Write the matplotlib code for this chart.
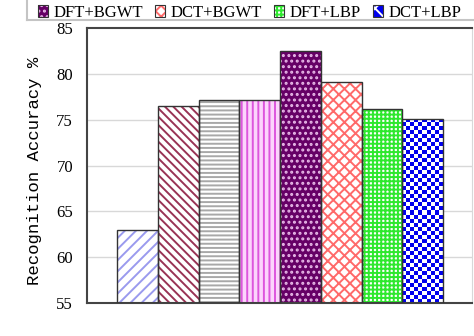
import matplotlib

matplotlib.use("Agg")
import matplotlib.pyplot as plt
import numpy as np
from matplotlib.lines import Line2D
from matplotlib.patches import Patch

# accuracy (%) per feature combination
methods = ["m1", "m2", "m3", "m4", "DFT+BGWT", "DCT+BGWT", "DFT+LBP", "DCT+LBP"]
accuracy = [63.0, 76.5, 77.2, 77.1, 82.5, 79.1, 76.2, 75.1]
yticks = [55, 60, 65, 70, 75, 80, 85]

# (face, hatch colour, hatch) per bar; None hatch -> checkerboard image
styles = [
    ("white", "#9a9aee", "///"),
    ("white", "#993355", "\\\\\\\\"),
    ("white", "#a8a8a8", "----"),
    ("#fcd4fc", "#dd55dd", "|||"),
    ("#660066", "#e8b8e8", "..."),
    ("white", "#ff6a6a", "xxx"),
    ("white", "#2ee82e", "++++"),
    ("white", "#0000ee", None),
]

plt.rcParams["hatch.linewidth"] = 1.4
BASE = 55

fig = plt.figure(figsize=(4.74, 3.36), dpi=100)
ax = fig.add_axes([87 / 474, 1 - 303 / 336, 385 / 474, 275 / 336])

x = np.arange(len(accuracy))
for i, (v, (face, hc, hatch)) in enumerate(zip(accuracy, styles)):
    if hatch is not None:
        ax.bar(x[i], v - BASE, bottom=BASE, width=1.0, color=face,
               edgecolor=hc, hatch=hatch, linewidth=0, zorder=2)
    else:
        bg = ax.bar(x[i], v - BASE, bottom=BASE, width=1.0, color="white",
                    linewidth=0, zorder=2)[0]
        rows = int(round((v - BASE) / 0.44))
        cols = 10
        board = (np.add.outer(np.arange(rows), np.arange(cols)) % 2).astype(float)
        im = ax.imshow(board, cmap=matplotlib.colors.ListedColormap(["white", hc]),
                       extent=(x[i] - 0.5, x[i] + 0.5, BASE, v), aspect="auto",
                       interpolation="nearest", zorder=2.5)
        im.set_clip_path(bg)
    ax.bar(x[i], v - BASE, bottom=BASE, width=1.0, fill=False,
           edgecolor="#333333", linewidth=1.0, zorder=3)

ax.set_ylim(55, 85)
ax.set_xlim(-1.236, 8.21)
ax.set_yticks(yticks)
ax.set_yticklabels([str(t) for t in yticks], fontfamily="Liberation Serif", fontsize=12)
ax.tick_params(axis="y", length=0, pad=10)
ax.set_xticks([])
for y in yticks[1:-1]:
    ax.axhline(y, color="#d8d8d8", linewidth=1.0, zorder=1)

for side in ["left", "top", "bottom"]:
    ax.spines[side].set_color("#444444")
    ax.spines[side].set_linewidth(1.5)
ax.spines["right"].set_color("#d8d8d8")

ax.set_ylabel("Recognition Accuracy %", fontfamily="Liberation Mono", fontsize=12.5)
ax.yaxis.set_label_coords(-0.118, 0.48)

# legend row for the last four combinations
handles = []
for face, hc, hatch in styles[4:]:
    if hatch is None:
        fill = Patch(facecolor=hc, edgecolor="white", hatch="xx", linewidth=0)
    else:
        fill = Patch(facecolor=face, edgecolor=hc, hatch=hatch, linewidth=0)
    outline = Patch(fill=False, edgecolor="#333333", linewidth=0.8)
    handles.append((fill, outline))

fig.legend(handles, methods[4:], loc="lower left", ncol=4,
           bbox_to_anchor=(38 / 474, 1 - 21 / 336), borderaxespad=0,
           frameon=False, prop={"family": "Liberation Serif", "size": 12},
           handlelength=0.6, handleheight=0.75, handletextpad=0.35,
           columnspacing=0.7, borderpad=0)

# legend frame: only its lower-left corner falls inside the canvas
fig.add_artist(Line2D([27 / 474, 1.0], [1 - 20 / 336] * 2,
                      color="#c4c4c4", linewidth=1.5))
fig.add_artist(Line2D([27 / 474] * 2, [1 - 20 / 336, 1.0],
                      color="#c4c4c4", linewidth=1.5))

fig.savefig("out.png", dpi=100)
